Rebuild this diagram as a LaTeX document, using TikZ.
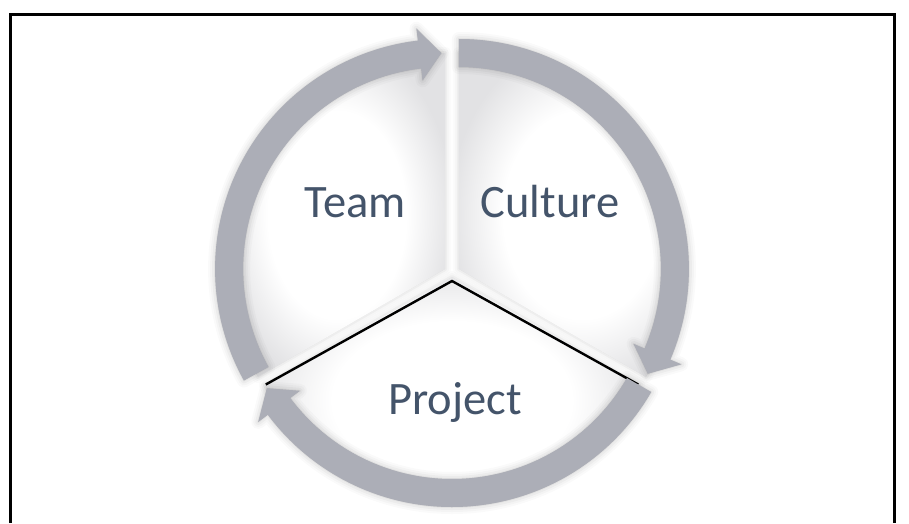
\documentclass[tikz,border=0pt]{standalone}
\usepackage{fontspec}
\setmainfont{Carlito}
\usetikzlibrary{calc}
\definecolor{ringgray}{RGB}{172,174,183}
\definecolor{txtcol}{RGB}{68,84,106}
\definecolor{wedgeedge}{RGB}{226,226,228}
\pgfdeclareradialshading{wedgeshade}{\pgfpoint{0bp}{0bp}}{%
  color(0bp)=(white); color(16bp)=(white); color(27bp)=(wedgeedge); color(50bp)=(wedgeedge)}
\newcommand\ringarrow[3]{% center, start angle, tip angle
  \pgfmathsetmacro\aB{#3+5.8}%
  \foreach \w/\o in {14/0.02,10/0.025,6/0.03,2/0.04}{%
    \filldraw[black,opacity=\o,line width=\w pt,line join=round,shift={(2,-4)}]
      (#1) ++(#2:230) arc[start angle=#2, end angle=\aB, radius=230]
      -- ($(#1)+(\aB:242)$) -- ($(#1)+(#3:216)$) -- ($(#1)+(\aB:190)$) -- ($(#1)+(\aB:202)$)
      arc[start angle=\aB, end angle=#2, radius=202] -- cycle;}
  \fill[ringgray]
      (#1) ++(#2:230) arc[start angle=#2, end angle=\aB, radius=230]
      -- ($(#1)+(\aB:242)$) -- ($(#1)+(#3:216)$) -- ($(#1)+(\aB:190)$) -- ($(#1)+(\aB:202)$)
      arc[start angle=\aB, end angle=#2, radius=202] -- cycle;
}
\newcommand\wedgeshape[3]{% apex, start, end
  \foreach \w/\o in {12/0.015,8/0.02,4/0.03}{%
    \filldraw[black,opacity=\o,line width=\w pt,line join=round,shift={(1,-3)}]
      (#1) -- ++(#2:216) arc[start angle=#2, end angle=#3, radius=216] -- cycle;}
  \shade[shading=wedgeshade]
      (#1) -- ++(#2:216) arc[start angle=#2, end angle=#3, radius=216] -- cycle;
}
\begin{document}
\begin{tikzpicture}[x=1pt,y=1pt,
  lbl/.style={font=\fontsize{46.5}{54}\selectfont, text=txtcol, anchor=base, inner sep=0pt}]
\useasboundingbox (0,0) rectangle (909,523);
\fill[white] (0,0) rectangle (909,523);
\coordinate (T) at (445.1,254);
\coordinate (C) at (458.9,254);
\coordinate (P) at (452,246);
\coordinate (PA) at (452,242);
% wedges
\wedgeshape{T}{90}{210}
\wedgeshape{C}{-30}{90}
\wedgeshape{P}{210}{330}
% black outline of the Project wedge
\coordinate (PL) at ($(P)+(210:215)$);
\coordinate (PR) at ($(P)+(330:215)$);
\draw[line width=2.4pt] (PL) -- (PA) -- (PR);
% ring arrows
\ringarrow{T}{209}{91}
\ringarrow{C}{90}{-29}
\ringarrow{P}{-30}{-149}
% labels
\node[lbl] (team) at (355,306) {Team};
\node[lbl] (culture) at (550,306) {Culture};
\node[lbl] (project) at (455,109) {Project};
% frame
\draw[line width=3pt] (10.5,0) -- (10.5,508.3) -- (894.3,508.3) -- (894.3,0);
\end{tikzpicture}
\end{document}
